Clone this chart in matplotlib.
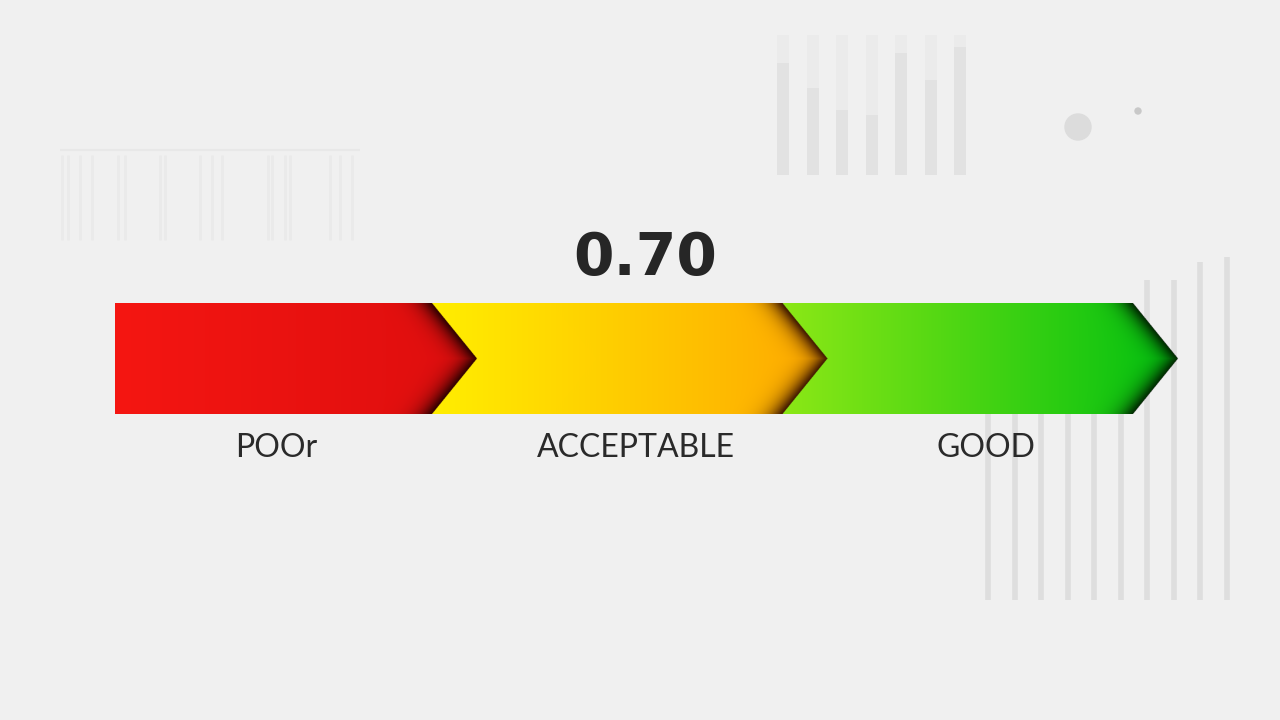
import numpy as np
import matplotlib
matplotlib.use("Agg")
import matplotlib.pyplot as plt

# datos del indicador
categorias = ["POOr", "ACCEPTABLE", "GOOD"]
valor = 0.70
colores_izq = [(245, 22, 18), (255, 238, 0), (140, 232, 22)]
colores_der = [(222, 14, 14), (255, 168, 0), (0, 192, 16)]
colores_sombra = [(40, 0, 0), (55, 18, 0), (0, 35, 0)]

# decoracion de fondo (barras grises arriba a la derecha)
deco_alturas = [112, 87, 65, 60, 122, 95, 128]
deco_lineas_inicio = [320, 320, 320, 320, 320, 320, 280, 280, 262, 257]
codigo_barras_x = [62, 68, 80, 92, 118, 125, 160, 165, 200, 212, 222, 268, 272,
                   285, 290, 330, 340, 352]

# geometria (pixeles)
W, H = 1280, 720
bar_izq = 115
primer_borde = 432
ancho_seg = 350.5
punta = 45
y_arriba, y_abajo = 303, 414
yc = (y_arriba + y_abajo) / 2
mitad = (y_abajo - y_arriba) / 2

fig = plt.figure(figsize=(12.8, 7.2), dpi=100)
fig.patch.set_facecolor("#f0f0f0")
ax = fig.add_axes([0, 0, 1, 1])
ax.set_xlim(0, W)
ax.set_ylim(H, 0)
ax.axis("off")

# fondo decorativo
xs_deco = 783 + 29.5 * np.arange(len(deco_alturas))
ax.bar(xs_deco, deco_alturas, bottom=175 - np.array(deco_alturas), width=12,
       color="#e2e2e2", zorder=1)
ax.bar(xs_deco, 140, bottom=35, width=12, color="#ebebeb", zorder=0.5)
xs_lin = 988 + 26.5 * np.arange(len(deco_lineas_inicio))
ax.vlines(xs_lin, deco_lineas_inicio, 600, color="#dedede", lw=4, zorder=1)
ax.add_patch(plt.Circle((1078, 127), 13, color="#dcdcdc", zorder=1))
ax.add_patch(plt.Circle((1138, 111), 3, color="#c8c8c8", zorder=1))
ax.hlines(150, 60, 360, color="#e8e8e8", lw=1.5, zorder=1)
ax.vlines(codigo_barras_x, 155, 240, color="#eaeaea", lw=2, zorder=1)

# barra con flechas (imagen sobremuestreada)
ss = 3
x0, x1 = bar_izq, primer_borde + ancho_seg * (len(categorias) - 1) + punta + 2
px = np.arange(x0, x1, 1 / ss) + 0.5 / ss
py = np.arange(y_arriba, y_abajo, 1 / ss) + 0.5 / ss
X, Y = np.meshgrid(px, py)
forma = punta * (1 - np.abs(Y - yc) / mitad)
img = np.zeros(X.shape + (4,))

inicio = np.full(X.shape, float(bar_izq))
for k in range(len(categorias)):
    borde_top = primer_borde + ancho_seg * k
    borde = borde_top + forma
    dentro = (X >= inicio) & (X < borde)
    a = bar_izq if k == 0 else primer_borde + ancho_seg * (k - 1)
    t = np.clip((X - a) / (borde_top + punta - a), 0, 1)[..., None]
    c = (1 - t) * np.array(colores_izq[k]) + t * np.array(colores_der[k])
    d = (borde - X) * 0.77
    s = (0.95 * np.exp(-(d / 11.0) ** 1.3))[..., None]
    c = (1 - s) * c + s * np.array(colores_sombra[k])
    img[dentro, :3] = c[dentro] / 255
    img[dentro, 3] = 1
    inicio = borde

ax.imshow(img, extent=(x0, x0 + X.shape[1] / ss, y_abajo, y_arriba),
          interpolation="antialiased", zorder=3, aspect="auto")

# textos
ax.text(645, 258, f"{valor:.2f}", ha="center", va="center", fontsize=42,
        fontweight="bold", color="#262626", family="DejaVu Sans", zorder=4)

for k, nombre in enumerate(categorias):
    a = bar_izq if k == 0 else primer_borde + ancho_seg * (k - 1)
    b = primer_borde + ancho_seg * k
    cx = (a + b) / 2 + (3 if k == 0 else punta / 2 + 6)
    ax.text(cx, 448, nombre, ha="center", va="center", fontsize=23,
            fontweight="normal", color="#2a2a2a", family="Lato", zorder=4)

fig.savefig("out.png", dpi=100, facecolor=fig.get_facecolor())
